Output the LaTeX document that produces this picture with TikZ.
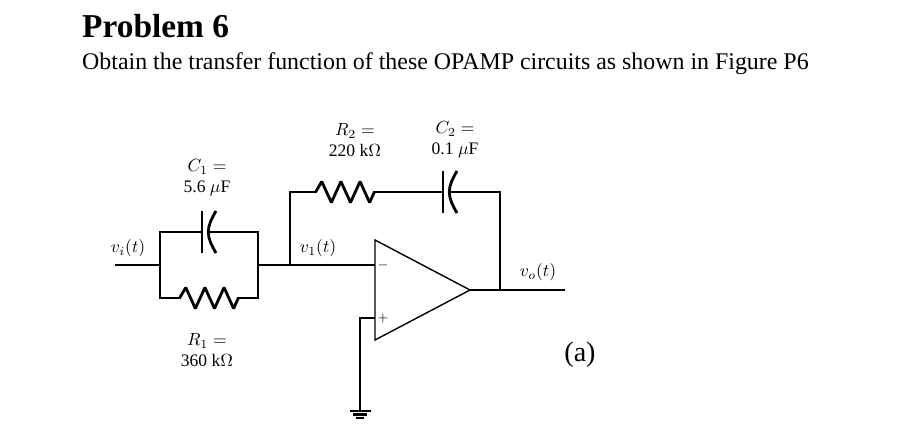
\documentclass[tikz,border=0pt]{standalone}
\usepackage[american]{circuitikz}
\usepackage{fontspec}
\setmainfont{Liberation Serif}
\usetikzlibrary{positioning}
\tikzset{lbl/.style={font=\normalsize, align=center, inner sep=1pt},
  wire/.style={line width=0.8pt}}
\begin{document}
\begin{tikzpicture}[x=0.02cm,y=-0.02cm]
\useasboundingbox (0,0) rectangle (924,430);
\node[anchor=west, font=\bfseries\fontsize{19}{21}\selectfont] (title) at (76,26) {Problem 6};
\node[anchor=west, font=\fontsize{13.6}{15}\selectfont] (sub) at (76,64) {Obtain the transfer function of these OPAMP circuits as shown in Figure P6};

% nodes of the circuit
\coordinate (in) at (115,265);
\coordinate (a) at (160,265);
\coordinate (b) at (258,265);
\coordinate (f) at (290,265);
\coordinate (m) at (375,265);
\coordinate (out) at (500,290);
\coordinate (vo) at (565,290);

\draw[wire] (in) -- (a);
\draw[wire] (a) -- (160,232) to[cC] (258,232) -- (b);
\draw[wire] (a) -- (160,298) to[R] (258,298) -- (b);
\draw[wire] (b) -- (m);
\draw[wire] (f) -- (290,192) to[R] (400,192) to[cC] (500,192) -- (out);

% op amp
\draw[wire] (375,240) -- (375,340) -- (470,290) -- cycle;
\draw[wire] (470,290) -- (vo);
\node[font=\scriptsize] (minus) at (383,265) {$-$};
\node[font=\scriptsize] (plus) at (383,318) {$+$};
\draw[wire] (375,318) -- (360,318) -- (360,390) node[ground]{};

% labels
\node[lbl] (vi) at (128,248) {$v_i(t)$};
\node[lbl] (v1) at (318,248) {$v_1(t)$};
\node[lbl] (vol) at (538,272) {$v_o(t)$};
\node[lbl] (c1) at (207,178) {$C_1 =$\\5.6 $\mu$F};
\node[lbl] (r1) at (207,350) {$R_1 =$\\360 k$\Omega$};
\node[lbl] (r2) at (355,140) {$R_2 =$\\220 k$\Omega$};
\node[lbl] (c2) at (455,140) {$C_2 =$\\0.1 $\mu$F};
\node[font=\fontsize{16}{18}\selectfont] (tag) at (580,355) {(a)};
\end{tikzpicture}
\end{document}
